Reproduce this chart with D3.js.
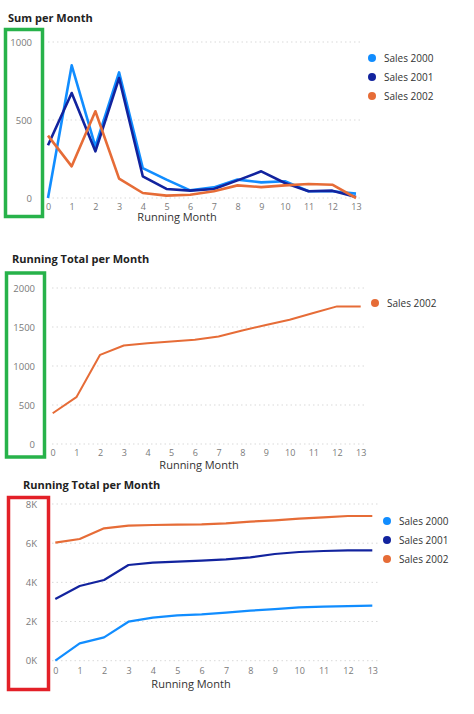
<!DOCTYPE html>
<html>
<head>
<meta charset="utf-8">
<script src="https://cdn.jsdelivr.net/npm/d3@7"></script>
<style>
  body { margin: 0; background: #fff; }
  svg { font-family: "Open Sans", "Noto Sans", sans-serif; }
</style>
</head>
<body>
<svg width="474" height="714"></svg>
<script>
const months = d3.range(0, 14);

// Sum per Month
const sum2000 = [0, 850, 330, 805, 192, 118, 49, 68, 118, 100, 107, 43, 43, 28];
const sum2001 = [338, 673, 299, 769, 139, 58, 47, 58, 113, 171, 96, 43, 47, 6];
const sum2002 = [400, 203, 556, 124, 32, 15, 21, 43, 81, 70, 81, 90, 85, 0];

// Running Total per Month (2002 only)
const run2002a = [394, 600, 1143, 1263, 1293, 1315, 1336, 1379, 1456, 1525, 1593, 1679, 1764, 1764];

// Running Total per Month (all years)
const run2000 = [0, 885, 1191, 1991, 2196, 2315, 2366, 2451, 2553, 2638, 2723, 2757, 2791, 2809];
const run2001 = [3149, 3813, 4119, 4885, 5004, 5055, 5106, 5174, 5277, 5447, 5549, 5600, 5634, 5634];
const run2002 = [6026, 6213, 6757, 6894, 6928, 6945, 6962, 7013, 7098, 7166, 7251, 7319, 7387, 7387];

const ticks1 = [0, 500, 1000];
const ticks2 = [0, 500, 1000, 1500, 2000];
const ticks3 = [0, 2000, 4000, 6000, 8000];

const colors = { "Sales 2000": "#118DFF", "Sales 2001": "#12239E", "Sales 2002": "#E66C37" };

const svg = d3.select("svg");

function drawChart(opt) {
  const g = svg.append("g");
  const x = d3.scaleLinear().domain([0, 13]).range(opt.xr);
  const y = d3.scaleLinear().domain([0, opt.ymax]).range(opt.yr);

  // title
  g.append("text")
    .attr("x", opt.title[0]).attr("y", opt.title[1])
    .attr("font-size", 11).attr("font-weight", "bold").attr("fill", "#222")
    .text(opt.titleText);

  // gridlines
  g.selectAll(".grid").data(opt.ticks).enter().append("line")
    .attr("x1", opt.grid[0]).attr("x2", opt.grid[1])
    .attr("y1", d => y(d)).attr("y2", d => y(d))
    .attr("stroke", "#d9d9d9").attr("stroke-width", 1)
    .attr("stroke-dasharray", "1.5,3");

  // y axis
  const yAxis = g.append("g")
    .attr("transform", `translate(${opt.ylab},0)`)
    .call(d3.axisLeft(y).tickValues(opt.ticks).tickSize(0).tickPadding(0).tickFormat(opt.fmt));
  yAxis.select(".domain").remove();
  yAxis.selectAll("text").attr("fill", "#7a7a7a").attr("font-size", 9.5)
    .attr("font-family", "\"Open Sans\", sans-serif");

  // x axis
  const xAxis = g.append("g")
    .attr("transform", `translate(0,${opt.xlab})`)
    .call(d3.axisBottom(x).tickValues(months).tickSize(0).tickPadding(0).tickFormat(d3.format("d")));
  xAxis.select(".domain").remove();
  xAxis.selectAll("text").attr("fill", "#7a7a7a").attr("font-size", 9)
    .attr("font-family", "\"Open Sans\", sans-serif").attr("dy", "0");

  g.append("text")
    .attr("x", opt.xtitle[0]).attr("y", opt.xtitle[1])
    .attr("text-anchor", "middle").attr("font-size", 11).attr("fill", "#333")
    .text("Running Month");

  // lines
  const line = d3.line().x((d, i) => x(i)).y(d => y(d));
  opt.series.forEach(s => {
    g.append("path")
      .datum(s.values)
      .attr("fill", "none")
      .attr("stroke", colors[s.name])
      .attr("stroke-width", opt.lw)
      .attr("stroke-linejoin", "round")
      .attr("d", line);
  });

  // legend
  const lg = g.append("g");
  opt.series.forEach((s, i) => {
    lg.append("circle")
      .attr("cx", opt.legend[0]).attr("cy", opt.legend[1] + i * opt.legend[2])
      .attr("r", 4).attr("fill", colors[s.name]);
    lg.append("text")
      .attr("x", opt.legend[0] + 12).attr("y", opt.legend[1] + i * opt.legend[2])
      .attr("dy", "0.35em").attr("font-size", 10).attr("fill", "#333")
      .text(s.name);
  });

  // highlight box
  g.append("rect")
    .attr("x", opt.box[0]).attr("y", opt.box[1])
    .attr("width", opt.box[2]).attr("height", opt.box[3])
    .attr("fill", "none").attr("stroke", opt.boxColor).attr("stroke-width", 3.5);
}

drawChart({
  titleText: "Sum per Month", title: [8, 22],
  xr: [48, 356], yr: [198, 42], ymax: 1000, ticks: ticks1,
  grid: [48, 363], ylab: 32, xlab: 210, xtitle: [177, 221],
  fmt: d3.format("d"), lw: 2.6,
  series: [
    { name: "Sales 2000", values: sum2000 },
    { name: "Sales 2001", values: sum2001 },
    { name: "Sales 2002", values: sum2002 }
  ],
  legend: [372, 58, 19],
  box: [5.5, 29.5, 37, 187], boxColor: "#27B24A"
});

drawChart({
  titleText: "Running Total per Month", title: [12, 263],
  xr: [52.7, 360.7], yr: [444, 288], ymax: 2000, ticks: ticks2,
  grid: [52, 367], ylab: 35, xlab: 456, xtitle: [199, 469],
  fmt: d3.format("d"), lw: 2,
  series: [
    { name: "Sales 2002", values: run2002a }
  ],
  legend: [375, 303, 19],
  box: [6.5, 273, 38, 184], boxColor: "#27B24A"
});

drawChart({
  titleText: "Running Total per Month", title: [23, 489],
  xr: [55.3, 372.3], yr: [660.7, 504], ymax: 8000, ticks: ticks3,
  grid: [52, 380], ylab: 37, xlab: 674, xtitle: [191, 688],
  fmt: d => (d / 1000) + "K", lw: 2.2,
  series: [
    { name: "Sales 2000", values: run2000 },
    { name: "Sales 2001", values: run2001 },
    { name: "Sales 2002", values: run2002 }
  ],
  legend: [387, 521, 19],
  box: [8.5, 497.5, 40, 192], boxColor: "#E32028"
});
</script>
</body>
</html>
